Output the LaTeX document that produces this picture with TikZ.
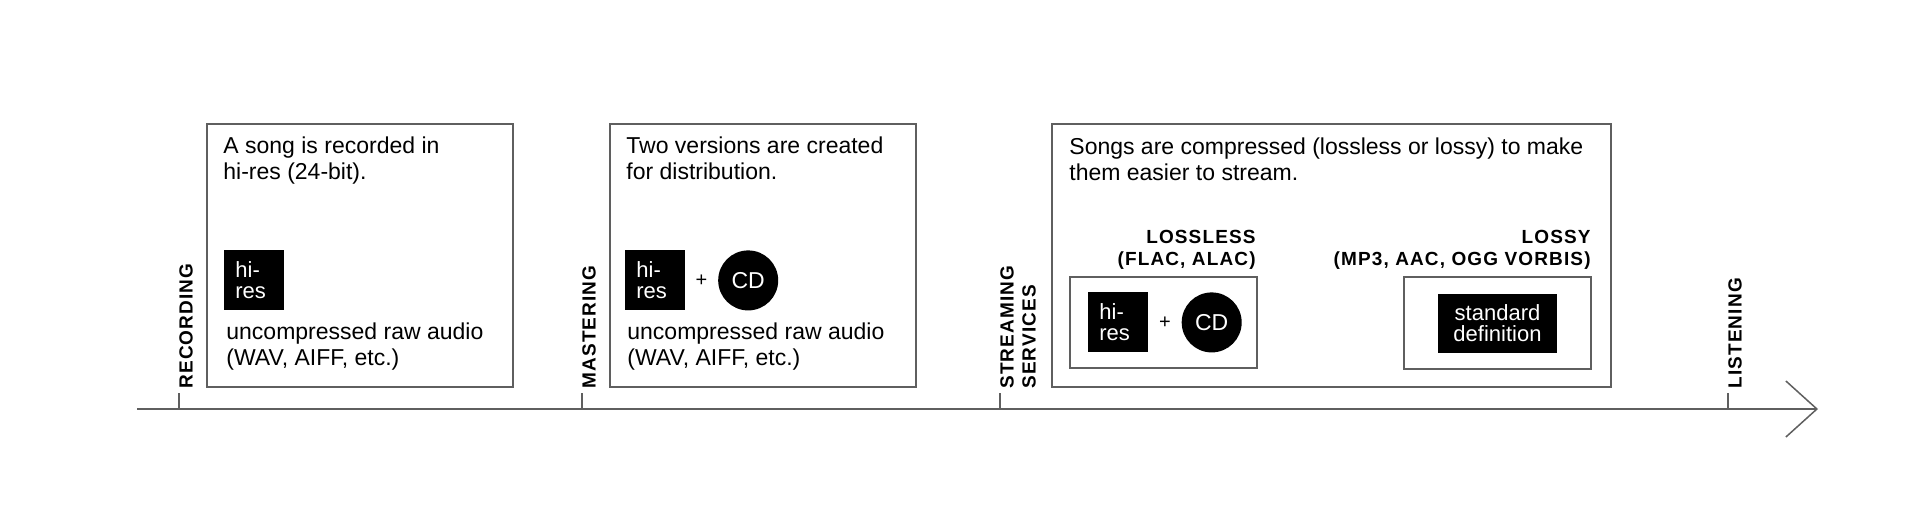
\documentclass[tikz,border=0pt]{standalone}
\usepackage{fontspec}
\setmainfont{Liberation Sans}
\newfontfamily\stagefont[LetterSpace=6]{Liberation Sans}
\usetikzlibrary{positioning}
\usetikzlibrary{fit}
\usetikzlibrary{arrows.meta}
\definecolor{rulegray}{RGB}{95,95,95}
\tikzset{
  stagebox/.style={draw=rulegray, line width=0.75pt, inner sep=0pt},
  blurb/.style={inner sep=0pt, anchor=base west, align=left,
    font=\fontsize{11.5pt}{13pt}\selectfont},
  stagelabel/.style={inner sep=0pt, rotate=90, anchor=north west, align=left,
    font=\stagefont\bfseries\fontsize{9.5pt}{11pt}\selectfont},
  codec/.style={inner sep=0pt, anchor=base east, align=right,
    font=\stagefont\bfseries\fontsize{9.5pt}{11pt}\selectfont},
  blackbox/.style={fill=black, text=white, inner ysep=0pt,
    font=\fontsize{11pt}{10.5pt}\selectfont},
  hires/.style={blackbox, minimum width=30pt, minimum height=30pt,
    inner xsep=5.5pt, text width=19pt, align=left},
  stdbox/.style={blackbox, minimum width=59.5pt, minimum height=29.5pt, align=center},
  cd/.style={circle, fill=black, text=white, minimum size=30pt, inner sep=0pt,
    font=\fontsize{11.5pt}{13pt}\selectfont},
  plussign/.style={inner sep=0pt, font=\fontsize{10pt}{12pt}\selectfont},
  stagetick/.style={draw=rulegray, line width=0.75pt}
}
\begin{document}
\begin{tikzpicture}[x=0.5pt, y=-0.5pt]
  \useasboundingbox (0,0) rectangle (1920,516);

  % timeline
  \coordinate (tlstart) at (137,409);
  \coordinate (tlend) at (1818,409);
  \draw [rulegray, line width=0.75pt, -{Straight Barb[length=15.5pt, width=28pt]}] (tlstart) -- (tlend);

  \coordinate (rec) at (179,409);
  \coordinate (mas) at (582,409);
  \coordinate (str) at (1000,409);
  \coordinate (lis) at (1728,409);
  \foreach \s in {rec,mas,str,lis}
    \draw [stagetick] (\s) -- ++(0,-16);

  \node [stagelabel] (reclabel) at (179,389) {RECORDING};
  \node [stagelabel] (maslabel) at (582,389) {MASTERING};
  \node [stagelabel] (strlabel) at (1000,389) {STREAMING\\SERVICES};
  \node [stagelabel] (lislabel) at (1728,389) {LISTENING};

  % recording (base anchor = last line)
  \node [stagebox, fit={(207,124) (513,387)}] (recbox) {};
  \node [blurb] (rectext) at (223,179) {A song is recorded in\\hi-res (24-bit).};
  \node [hires, anchor=north west] (hires1) at (224,250) {hi-\\res};
  \node [blurb] (rawtext1) at (226,365) {uncompressed raw audio\\(WAV, AIFF, etc.)};

  % mastering
  \node [stagebox, fit={(610,124) (916,387)}] (masbox) {};
  \node [blurb] (mastext) at (626,179) {Two versions are created\\for distribution.};
  \node [hires, anchor=north west] (hires2) at (625,250) {hi-\\res};
  \node [plussign, right=4.75pt of hires2] (plus2) {+};
  \node [cd, right=5pt of plus2] (cd2) {CD};
  \node [blurb] (rawtext2) at (627,365) {uncompressed raw audio\\(WAV, AIFF, etc.)};

  % streaming
  \node [stagebox, fit={(1052,124) (1611,387)}] (strbox) {};
  \node [blurb] (strtext) at (1069,180) {Songs are compressed (lossless or lossy) to make\\them easier to stream.};
  \node [codec] (losslesslabel) at (1256,265) {LOSSLESS\\(FLAC, ALAC)};
  \node [codec] (lossylabel) at (1591,265) {LOSSY\\(MP3, AAC, OGG VORBIS)};
  \node [stagebox, fit={(1070,277) (1257,368)}] (losslessbox) {};
  \node [stagebox, fit={(1404,277) (1591,369)}] (lossybox) {};
  \node [hires, anchor=north west] (hires3) at (1088,292) {hi-\\res};
  \node [plussign, right=5pt of hires3] (plus3) {+};
  \node [cd, right=5pt of plus3] (cd3) {CD};
  \node [stdbox] (stddef) at (lossybox.center) {standard\\definition};

\end{tikzpicture}
\end{document}
